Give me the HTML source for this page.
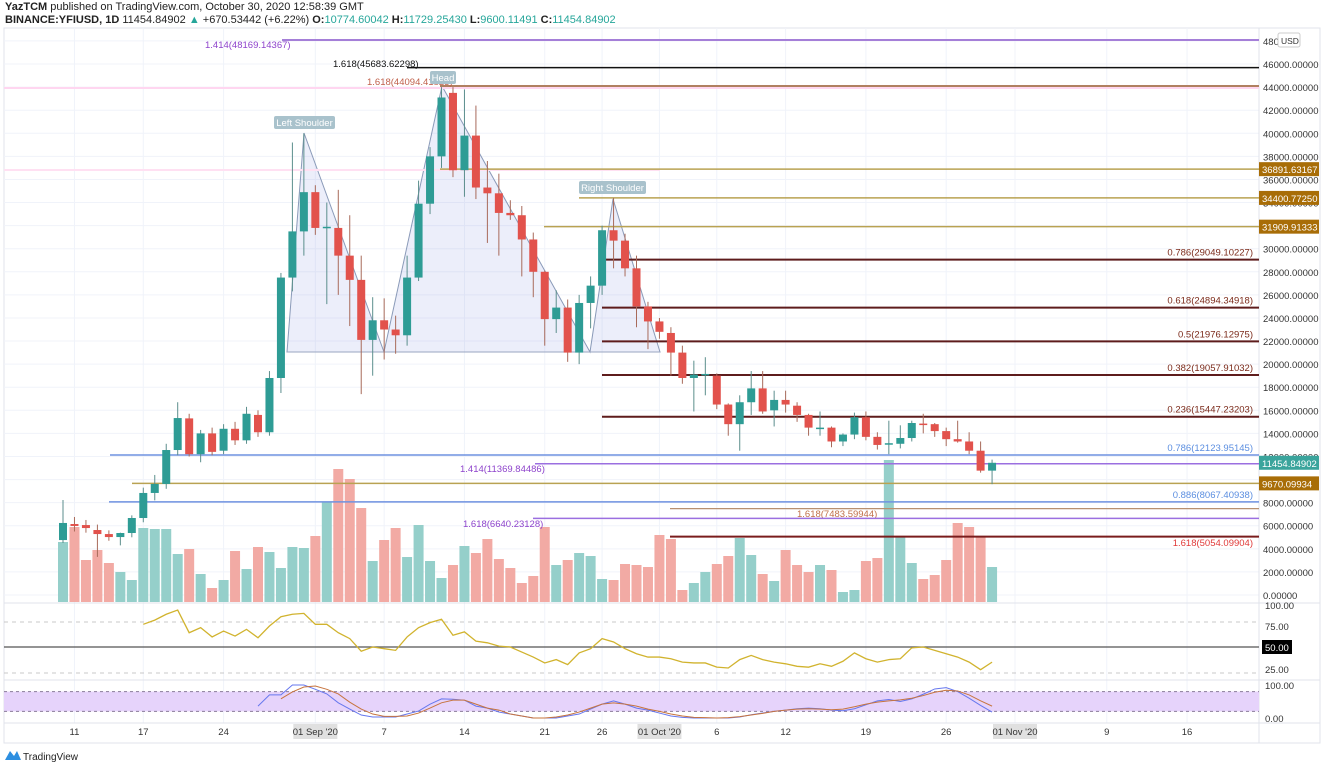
<!DOCTYPE html>
<html><head><meta charset="utf-8">
<style>
html,body{margin:0;padding:0;background:#fff;}
body{width:1323px;height:768px;overflow:hidden;position:relative;font-family:"Liberation Sans",sans-serif;}
#hdr1{position:absolute;left:5px;top:1px;font-size:11px;color:#222;}
#hdr2{position:absolute;left:5px;top:14px;font-size:11px;color:#222;}
.t{color:#26a69a}
svg{position:absolute;left:0;top:0;}
</style></head><body>
<div id="hdr1"><b>YazTCM</b> published on TradingView.com, October 30, 2020 12:58:39 GMT</div>
<div id="hdr2"><b>BINANCE:YFIUSD, 1D</b> 11454.84902 <span class="t">▲</span> +670.53442 (+6.22%) <b>O:</b><span class="t">10774.60042</span> <b>H:</b><span class="t">11729.25430</span> <b>L:</b><span class="t">9600.11491</span> <b>C:</b><span class="t">11454.84902</span></div>
<svg id="chart" width="1323" height="768" xmlns="http://www.w3.org/2000/svg"></svg>
<script>
// ---- data ----
const opens=[4760,6150,6060,5630,5280,5020,5370,6670,8840,9620,12560,15300,12200,14000,12500,14400,13400,15600,14100,18800,27500,31500,34900,31800,31800,29400,27300,22100,23800,23000,22500,27500,33900,38000,43500,36800,39800,35300,34800,33100,32900,30800,28000,23900,24900,21000,25300,26800,31600,30700,28300,25000,23700,22700,21000,18800,19100,19000,16500,14800,16700,17900,16000,16900,16400,15600,14500,14500,13300,13900,15400,13700,13100,13100,13600,14850,14800,14200,13500,13300,12500,10774];
const highs=[8230,6760,6500,6100,5600,5400,6900,9300,10400,13100,16700,15700,14300,14500,14800,15000,16300,16000,19400,27900,39200,40000,35500,34000,35100,32900,29400,25800,25700,24200,29400,35900,38800,44000,44000,43800,42400,37600,36500,34200,33700,31400,28100,26400,25600,26000,27600,32000,34400,31300,29400,25400,24000,23200,21600,20300,20600,19200,16600,17300,19400,19400,17700,17700,16700,15700,15900,14600,14000,15800,15900,14100,15100,14700,15100,15700,14900,14500,15100,14100,13300,11729];
const lows=[4500,5500,5400,3300,4700,4300,5000,6300,8200,9200,12100,12000,11500,12100,12200,13000,13100,13700,13800,17500,26300,29400,31200,25200,26000,23300,17400,19000,20400,20900,21600,27200,33000,37000,36200,34500,34300,30500,29400,32500,27600,25800,21600,22700,20200,20000,23100,26000,28300,27600,23200,21300,22200,19000,18300,15900,17300,16100,13800,12500,15600,15700,14600,15800,15000,13800,13800,12800,12900,13500,13400,12600,12200,12700,13300,14000,13700,12900,13200,12200,10600,9600];
const closes=[6240,5980,5800,5280,5020,5370,6670,8840,9620,12560,15330,12200,14000,12400,14400,13400,15700,14100,18800,27500,31500,34900,31800,31900,29400,27300,22100,23800,23000,22500,27500,33900,38000,43100,36800,39800,35300,34800,33100,32900,30800,28000,23900,24900,21000,25300,26800,31600,30700,28300,25000,23700,22800,21000,18800,19100,19150,16500,14800,16700,17900,15900,16900,16500,15600,14500,14500,13300,13900,15400,13700,13000,13150,13600,14900,14800,14200,13500,13300,12500,10774,11454];
const volumes=[60,75,42,52,39,30,22,74,73,73,48,53,28,14,22,51,33,55,50,34,55,54,66,100,133,123,94,41,62,74,45,77,41,24,37,56,49,63,43,34,19,26,75,37,42,49,46,23,22,38,37,35,67,63,12,19,30,38,46,64,47,28,21,52,37,30,37,32,10,12,41,44,142,65,39,23,27,42,79,75,65,35];
const rsiStart=7;
const rsiValues=[77,82,89,94,67,73,62,69,63,71,61,75,86,89,90,77,77,67,60,45,50,48,46,62,73,79,83,64,68,57,55,51,50,44,38,31,35,29,43,48,60,56,48,42,38,38,36,32,31,31,26,25,35,40,35,32,30,27,26,30,27,33,43,36,32,35,36,49,50,46,42,38,32,23,32];
const kStart=17;
const stochK=[36,70,70,100,100,87,73,46,27,9,3,3,3,12,21,42,58,57,54,36,30,18,12,6,0,0,0,6,12,27,42,52,42,30,24,15,6,2,0,0,0,0,3,10,15,20,24,28,30,28,24,22,28,40,52,56,50,58,72,88,92,80,60,38,18];
const dStart=19;
const stochD=[58,79,94,97,87,73,48,27,12,5,5,6,15,30,46,54,54,42,30,24,12,6,0,0,3,9,18,30,42,46,42,36,27,20,12,6,2,1,0,1,4,9,14,20,24,27,28,27,25,27,34,42,48,52,55,60,68,78,84,82,70,52,36];
const priceTicks=[0,2000,4000,6000,8000,10000,12000,14000,16000,18000,20000,22000,24000,26000,28000,30000,32000,34000,36000,38000,40000,42000,44000,46000];
const dateLabels=["11","17","24","01 Sep '20","7","14","21","26","01 Oct '20","6","12","19","26","01 Nov '20","9","16"];
const dateIdx=[1,7,14,22,28,35,42,47,52,57,63,70,77,83,91,98];

// ---- scales ----
const X0=63, DX=11.47;
function xOf(i){return X0+i*DX;}
function yP(p){return 595-p*0.011543;}
function yV(v){return 602-v;}
function yR(v){return 689-v*0.84;}
function yS(v){return 718-v*0.33;}

const svg=document.getElementById('chart');
const NS='http://www.w3.org/2000/svg';
function mk(tag,attrs,parent){const e=document.createElementNS(NS,tag);for(const k in attrs)e.setAttribute(k,attrs[k]);(parent||svg).appendChild(e);return e;}
function txt(s,x,y,attrs,parent){const e=mk('text',Object.assign({x:x,y:y,'font-size':'9.5','font-family':'Liberation Sans, sans-serif',fill:'#333'},attrs||{}),parent);e.textContent=s;return e;}

mk('rect',{x:4,y:28,width:1316,height:715,fill:'none',stroke:'#e0e3eb'});
const grid=mk('g',{});


priceTicks.forEach(p=>{mk('line',{x1:4,x2:1259,y1:yP(p),y2:yP(p),stroke:'#f0f3fa'},grid);});
mk('line',{x1:4,x2:1259,y1:yP(48000),y2:yP(48000),stroke:'#f0f3fa'},grid);
dateIdx.forEach(i=>{mk('line',{x1:xOf(i),x2:xOf(i),y1:28,y2:723,stroke:'#f0f3fa'},grid);});
mk('line',{x1:4,x2:1320,y1:603,y2:603,stroke:'#e0e3eb'});
mk('line',{x1:4,x2:1320,y1:680,y2:680,stroke:'#e0e3eb'});
mk('line',{x1:4,x2:1320,y1:723,y2:723,stroke:'#e0e3eb'});
mk('line',{x1:1259,x2:1259,y1:28,y2:743,stroke:'#e0e3eb'});

const hs=mk('polygon',{points:'287,352 304,133 384,352 442,86 590,352 613,199 660,352',fill:'rgba(110,120,220,0.13)',stroke:'#8a9ab8','stroke-width':1});


mk('line',{x1:287,x2:660,y1:352,y2:352,stroke:'#9aa6c0'});

const vg=mk('g',{});


volumes.forEach((v,i)=>{
  const up=closes[i]>=opens[i];
  const r=mk('rect',{x:xOf(i)-5,y:yV(v),width:10,height:602-yV(v),fill:up?'#95cfca':'#f2aaa4'},vg);
  
  
});

function hline(y,x1,color,w,name){const l=mk('line',{x1:x1,x2:1259,y1:y,y2:y,stroke:color,'stroke-width':w});return l;}
mk('line',{x1:4,x2:1259,y1:88,y2:88,stroke:'#ffd6f0','stroke-width':2});
mk('line',{x1:4,x2:660,y1:170,y2:170,stroke:'#ffe0f2','stroke-width':2});
hline(40,282,'#a57fd8',2,'fib-1414-48169-line');
txt('1.414(48169.14367)',205,48,{fill:'#8e44cc'});
hline(yP(45683.6),407,'#111',1.5,'fib-1618-45683-line');
txt('1.618(45683.62298)',333,67,{fill:'#111'});
hline(yP(44094.4),440,'#b08060',2,'fib-1618-44094-line');
txt('1.618(44094.41823)',367,85,{fill:'#c0604a'});
hline(yP(36891.6),440,'#b9a252',1.5,'level-36891-line');
hline(yP(34400.8),579,'#b9a252',1.5,'level-34400-line');
hline(yP(31909.9),544,'#b9a252',1.5,'level-31909-line');
const fibs=[[29049.10227,'0.786'],[24894.34918,'0.618'],[21976.12975,'0.5'],[19057.91032,'0.382'],[15447.23203,'0.236']];
fibs.forEach(f=>{hline(yP(f[0]),602,'#5e1c1c',2,'fib-retracement-'+f[1]);txt(f[1]+'('+f[0].toFixed(5)+')',1253,yP(f[0])-4,{fill:'#7b2a1a','text-anchor':'end'});});
hline(yP(12123.95),110,'#6f92e0',1.5,'fib-0786-12123-line');
txt('0.786(12123.95145)',1253,yP(12123.95)-4,{fill:'#5b8ee0','text-anchor':'end'});
hline(yP(11369.8),535,'#9b6fe0',1.5,'fib-1414-11369-line');
txt('1.414(11369.84486)',460,472,{fill:'#8e44cc'});
hline(yP(9670.1),132,'#b9a252',1.5,'level-9670-line');
hline(yP(8067.4),109,'#6f92e0',1.5,'fib-0886-8067-line');
txt('0.886(8067.40938)',1253,yP(8067.4)-4,{fill:'#5b8ee0','text-anchor':'end'});
hline(yP(7483.6),670,'#b89070',1.2,'fib-1618-7483-line');
txt('1.618(7483.59944)',797,517,{fill:'#c0704a'});
hline(yP(6640.2),533,'#9b6fe0',1.5,'fib-1618-6640-line');
txt('1.618(6640.23128)',463,527,{fill:'#8e44cc'});
hline(yP(5054.1),670,'#7a1c1c',2,'fib-1618-5054-line');
txt('1.618(5054.09904)',1253,546,{fill:'#e03a3a','text-anchor':'end'});

const cg=mk('g',{});


opens.forEach((o,i)=>{
  const c=closes[i],up=c>=o,col=up?'#2e9c95':'#e2524c',x=xOf(i);
  const g=mk('g',{},cg);
  
  
  mk('line',{x1:x,x2:x,y1:yP(highs[i]),y2:yP(lows[i]),stroke:up?'#5b8e8c':'#a86a5a','stroke-width':1},g);
  const t=Math.min(yP(o),yP(c)),h=Math.max(1.5,Math.abs(yP(o)-yP(c)));
  mk('rect',{x:x-4,y:t,width:8,height:h,fill:col},g);
});

function tag(s,x,y,w,name){const g=mk('g',{});mk('rect',{x:x,y:y,width:w,height:13,rx:2,fill:'#a9c2cc'},g);txt(s,x+w/2,y+10,{fill:'#fff','text-anchor':'middle'},g);}
tag('Left Shoulder',274,116,61,'left-shoulder-label');
tag('Head',430,71,26,'head-label');
tag('Right Shoulder',579,181,67,'right-shoulder-label');

const ax=mk('g',{});


priceTicks.forEach(p=>{txt(p.toFixed(5),1263,yP(p)+4,{},ax);});
txt('480',1263,45,{},ax);
mk('rect',{x:1278,y:33,width:22,height:14,rx:2,fill:'#fff',stroke:'#ccc'},ax);
txt('USD',1281,44,{'font-size':'8.5'},ax);
function ptag(v,s,bg,name){const g=mk('g',{});mk('rect',{x:1259,y:yP(v)-7,width:60,height:14,fill:bg},g);txt(s,1262,yP(v)+4,{fill:'#fff'},g);}
ptag(36891.6,'36891.63167','#a86d07','price-tag-36891');
ptag(34400.8,'34400.77250','#a86d07','price-tag-34400');
ptag(31909.9,'31909.91333','#a86d07','price-tag-31909');
ptag(11454.85,'11454.84902','#3aa49c','price-tag-last');
ptag(9670.1,'9670.09934','#a86d07','price-tag-9670');

mk('line',{x1:4,x2:1259,y1:622,y2:622,stroke:'#c8c8c8','stroke-dasharray':'4,4'});
mk('line',{x1:4,x2:1259,y1:673,y2:673,stroke:'#c8c8c8','stroke-dasharray':'4,4'});
mk('line',{x1:4,x2:1259,y1:yR(50),y2:yR(50),stroke:'#555','stroke-width':1.2});
const rp=rsiValues.map((v,k)=>xOf(k+rsiStart)+','+yR(v)).join(' ');
const rl=mk('polyline',{points:rp,fill:'none',stroke:'#d1b32e','stroke-width':1.3});


txt('100.00',1265,609);txt('75.00',1265,630);
mk('rect',{x:1262,y:640,width:30,height:14,fill:'#000'});
txt('50.00',1265,651,{fill:'#fff'});
txt('25.00',1265,673);

const band=mk('rect',{x:4,y:yS(80),width:1255,height:yS(20)-yS(80),fill:'#e6d3fb'});


mk('line',{x1:4,x2:1259,y1:yS(80),y2:yS(80),stroke:'#8a7a9a','stroke-dasharray':'3,3'});
mk('line',{x1:4,x2:1259,y1:yS(20),y2:yS(20),stroke:'#8a7a9a','stroke-dasharray':'3,3'});
const kp=stochK.map((v,k)=>xOf(k+kStart)+','+yS(v)).join(' ');
const kl=mk('polyline',{points:kp,fill:'none',stroke:'#6677ee','stroke-width':1});


const dp=stochD.map((v,k)=>xOf(k+dStart)+','+yS(v)).join(' ');
const dl=mk('polyline',{points:dp,fill:'none',stroke:'#c7743e','stroke-width':1});


txt('100.00',1265,689);txt('0.00',1265,722);

const dax=mk('g',{});


dateLabels.forEach((s,k)=>{
  const x=xOf(dateIdx[k]);
  if(s.length>3){mk('rect',{x:x-22,y:724,width:44,height:15,fill:'#e0e0e0'},dax);}
  txt(s,x,735,{'text-anchor':'middle'},dax);
});

const lg=mk('g',{});


mk('path',{d:'M5,760 L10,751 L14,756 L17,751 L21,760 Z',fill:'#2d8fe0'},lg);
txt('TradingView',23,760,{'font-size':'10','fill':'#222'},lg);
</script>
</body></html>
